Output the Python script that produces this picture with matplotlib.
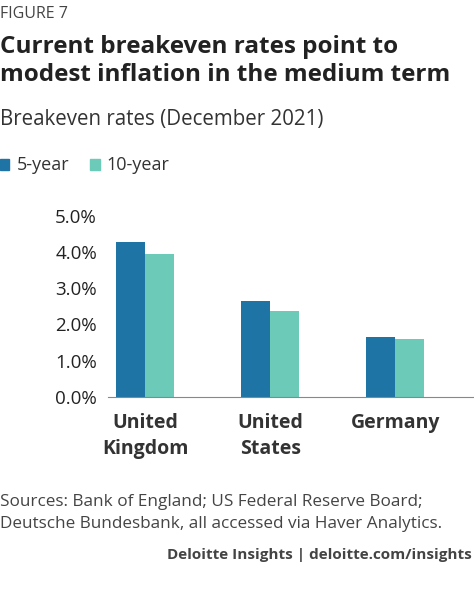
import matplotlib.pyplot as plt
import numpy as np

countries = ['United\nKingdom', 'United\nStates', 'Germany']
five_year = [4.28, 2.65, 1.64]
ten_year = [3.95, 2.38, 1.59]
yticks = [0, 1, 2, 3, 4, 5]

dark = '#1d74a5'
teal = '#6ccab8'
plt.rcParams['font.family'] = ['Open Sans', 'DejaVu Sans']

fig = plt.figure(figsize=(4.74, 6.03), dpi=100)
ax = fig.add_axes([0.228, 0.342, 0.772, 0.300])

x = np.arange(len(countries))
w = 0.23
ax.bar(x - w / 2, five_year, w, color=dark)
ax.bar(x + w / 2, ten_year, w, color=teal)

ax.set_xlim(-0.296, 2.63)
ax.set_ylim(0, 5)
ax.set_yticks(yticks)
ax.set_yticklabels([f'{v:.1f}%' for v in yticks], fontsize=13.5, color='#222222')
ax.set_xticks(x)
ax.set_xticklabels(countries, fontsize=14, fontweight='bold', color='#333333', linespacing=1.4)
ax.tick_params(axis='y', length=0, pad=8)
ax.tick_params(axis='x', length=0, pad=12)
for s in ['top', 'right', 'left']:
    ax.spines[s].set_visible(False)
ax.spines['bottom'].set_color('#888888')

fig.text(0.0, 0.99, 'FIGURE 7', fontsize=11.5, color='#444444', va='top')
fig.text(0.0, 0.942, 'Current breakeven rates point to\nmodest inflation in the medium term',
         fontsize=17.5, fontweight='bold', color='#222222', va='top', linespacing=1.2)
fig.text(0.0, 0.802, 'Breakeven rates (December 2021)', fontsize=14.8, color='#333333', va='center')

fig.patches.append(plt.Rectangle((0.0, 0.718), 0.02, 0.018, color=dark, transform=fig.transFigure))
fig.text(0.035, 0.727, '5-year', fontsize=13, color='#333333', va='center')
fig.patches.append(plt.Rectangle((0.19, 0.718), 0.02, 0.018, color=teal, transform=fig.transFigure))
fig.text(0.225, 0.727, '10-year', fontsize=13, color='#333333', va='center')

fig.text(0.0, 0.149, 'Sources: Bank of England; US Federal Reserve Board;\n'
         'Deutsche Bundesbank, all accessed via Haver Analytics.',
         fontsize=12.3, color='#444444', va='center', linespacing=1.55)
fig.text(0.995, 0.08, 'Deloitte Insights | deloitte.com/insights', fontsize=11,
         fontweight='bold', color='#444444', ha='right', va='center')

fig.savefig('out.png', dpi=100)
